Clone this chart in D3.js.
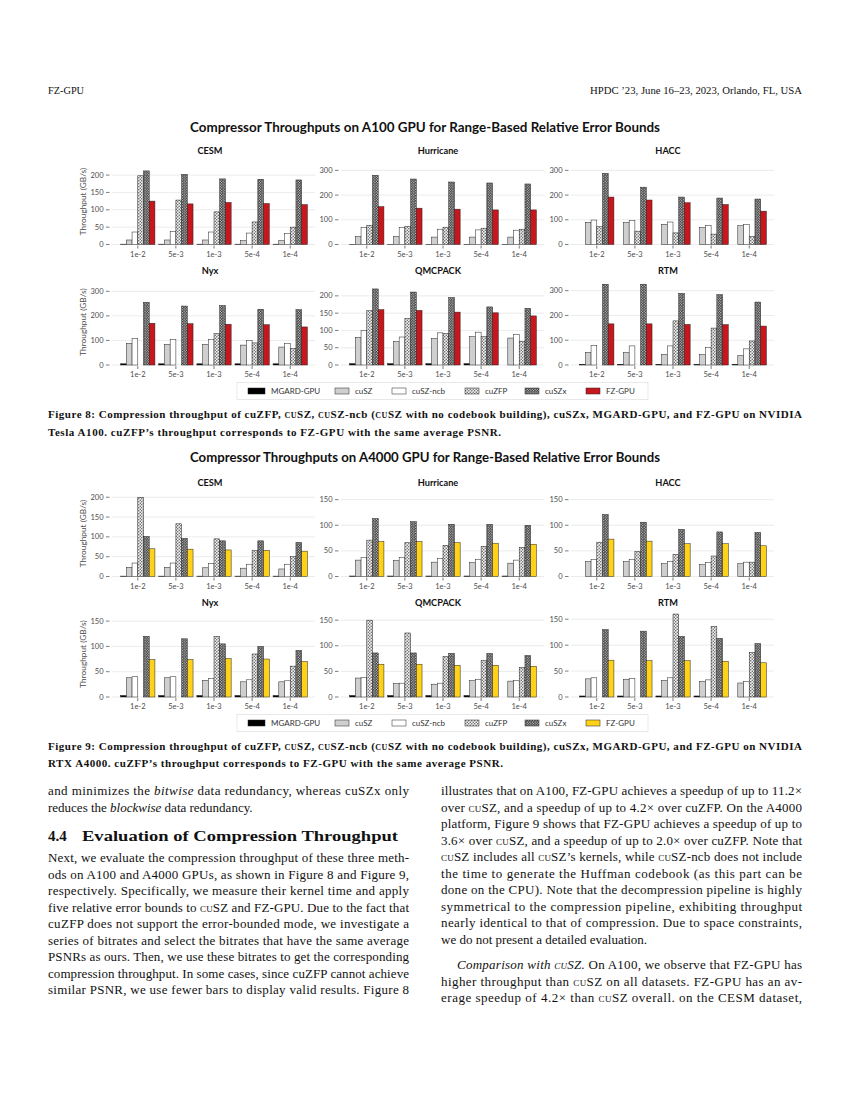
<!DOCTYPE html>
<html><head><meta charset="utf-8">
<script src="https://cdn.jsdelivr.net/npm/d3@7"></script>
<style>body{margin:0;background:#fff}svg{display:block}</style>
</head><body>
<script>
// ---------- DATA ----------
const datasets = ["CESM", "Hurricane", "HACC", "Nyx", "QMCPACK", "RTM"];
const errorBounds = ["1e-2", "5e-3", "1e-3", "5e-4", "1e-4"];
const compressors = ["MGARD-GPU", "cuSZ", "cuSZ-ncb", "cuZFP", "cuSZx", "FZ-GPU"];
const yTickLabelTitle = "Throughput (GB/s)";

// A100 (rows = datasets, cols = error bounds), GB/s
const a100Mgard = [[1,1,1,1,1],[1,1,1,1,1],[null,null,null,null,null],[5,5,5,5,5],[4,4,4,4,null],[3,3,3,3,3]];
const a100Cusz  = [[13,13,13,11,11],[32,32,30,30,30],[90,89,82,69,76],[88,84,84,81,73],[80,68,77,82,78],[51,50,43,42,38]];
const a100Ncb   = [[36,37,36,33,32],[69,69,62,59,58],[99,97,91,77,81],[107,104,104,100,88],[100,81,93,95,89],[78,77,77,71,65]];
const a100Cuzfp = [[198,128,94,65,50],[78,74,70,66,62],[72,54,47,42,32],[null,null,128,90,68],[157,135,91,82,69],[null,null,178,149,97]];
const a100Cuszx = [[212,202,189,188,186],[280,265,253,249,245],[288,232,192,188,184],[255,240,242,227,225],[220,211,195,168,164],[326,326,289,284,254]];
const a100Fz    = [[125,117,121,118,115],[153,147,143,140,140],[192,180,169,162,135],[170,168,166,164,155],[160,158,153,151,142],[166,166,164,163,157]];
const a100YTop  = [242, 340, 340, 342, 243, 339];

// A4000
const a4000Mgard = [[1,1,1,1,1],[1,1,1,1,1],[null,null,null,null,null],[3,3,3,3,3],[3,3,3,3,null],[2,2,2,2,null]];
const a4000Cusz  = [[23,23,22,21,19],[32,31,28,27,26],[29,29,25,23,25],[38,38,33,30,30],[37,26,25,32,31],[35,34,32,30,27]];
const a4000Ncb   = [[34,34,33,31,31],[37,37,35,33,32],[33,33,29,27,28],[40,40,37,34,32],[38,27,27,34,32],[37,36,37,33,30]];
const a4000Cuzfp = [[200,133,95,66,50],[71,66,61,59,57],[67,49,43,40,28],[null,null,120,85,61],[150,125,79,71,58],[null,null,160,136,86]];
const a4000Cuszx = [[101,96,90,90,86],[113,107,102,102,100],[121,106,92,87,86],[120,115,105,100,92],[86,86,85,85,81],[130,127,117,113,103]];
const a4000Fz    = [[70,69,67,66,64],[68,68,66,65,63],[73,69,64,64,60],[74,74,76,75,70],[64,64,62,62,60],[71,70,70,69,66]];
const a4000YTop  = [212, 164, 164, 166, 164, 162];

// ---------- TEXT ----------
const fig8Title = "Compressor Throughputs on A100 GPU for Range-Based Relative Error Bounds";
const fig9Title = "Compressor Throughputs on A4000 GPU for Range-Based Relative Error Bounds";
const fig8Caption = ["Figure 8: Compression throughput of cuZFP, [cuSZ], [cuSZ]-ncb ([cuSZ] with no codebook building), cuSZx, MGARD-GPU, and FZ-GPU on NVIDIA",
                     "Tesla A100. cuZFP’s throughput corresponds to FZ-GPU with the same average PSNR."];
const fig9Caption = ["Figure 9: Compression throughput of cuZFP, [cuSZ], [cuSZ]-ncb ([cuSZ] with no codebook building), cuSZx, MGARD-GPU, and FZ-GPU on NVIDIA",
                     "RTX A4000. cuZFP’s throughput corresponds to FZ-GPU with the same average PSNR."];
const leftCol = [
  ["and minimizes the *bitwise* data redundancy, whereas cuSZx only", true],
  ["reduces the *blockwise* data redundancy.", false]
];
const leftCol2 = [
  ["Next, we evaluate the compression throughput of these three meth-", true],
  ["ods on A100 and A4000 GPUs, as shown in Figure 8 and Figure 9,", true],
  ["respectively. Specifically, we measure their kernel time and apply", true],
  ["five relative error bounds to [cuSZ] and FZ-GPU. Due to the fact that", true],
  ["cuZFP does not support the error-bounded mode, we investigate a", true],
  ["series of bitrates and select the bitrates that have the same average", true],
  ["PSNRs as ours. Then, we use these bitrates to get the corresponding", true],
  ["compression throughput. In some cases, since cuZFP cannot achieve", true],
  ["similar PSNR, we use fewer bars to display valid results. Figure 8", true]
];
const rightCol = [
  ["illustrates that on A100, FZ-GPU achieves a speedup of up to 11.2×", true],
  ["over [cuSZ], and a speedup of up to 4.2× over cuZFP. On the A4000", true],
  ["platform, Figure 9 shows that FZ-GPU achieves a speedup of up to", true],
  ["3.6× over [cuSZ], and a speedup of up to 2.0× over cuZFP. Note that", true],
  ["[cuSZ] includes all [cuSZ]’s kernels, while [cuSZ]-ncb does not include", true],
  ["the time to generate the Huffman codebook (as this part can be", true],
  ["done on the CPU). Note that the decompression pipeline is highly", true],
  ["symmetrical to the compression pipeline, exhibiting throughput", true],
  ["nearly identical to that of compression. Due to space constraints,", true],
  ["we do not present a detailed evaluation.", false]
];
const rightCol2 = [
  ["*Comparison with [cuSZ].* On A100, we observe that FZ-GPU has", true],
  ["higher throughput than [cuSZ] on all datasets. FZ-GPU has an av-", true],
  ["erage speedup of 4.2× than [cuSZ] overall. on the CESM dataset,", true]
];

// ---------- DRAW ----------
const svg = d3.select("body").append("svg").attr("width", 850).attr("height", 1100);
const defs = svg.append("defs");
const pz = defs.append("pattern").attr("id","pZfp").attr("patternUnits","userSpaceOnUse").attr("width",3).attr("height",3);
pz.append("rect").attr("width",3).attr("height",3).attr("fill","#f2f2f2");
pz.append("circle").attr("cx",0.75).attr("cy",0.75).attr("r",0.75).attr("fill","#5a5a5a");
pz.append("circle").attr("cx",2.25).attr("cy",2.25).attr("r",0.75).attr("fill","#5a5a5a");
const px = defs.append("pattern").attr("id","pSzx").attr("patternUnits","userSpaceOnUse").attr("width",2.6).attr("height",2.6);
px.append("rect").attr("width",2.6).attr("height",2.6).attr("fill","#2e2e2e");
px.append("circle").attr("cx",0.65).attr("cy",0.65).attr("r",0.6).attr("fill","#fff");
px.append("circle").attr("cx",1.95).attr("cy",1.95).attr("r",0.6).attr("fill","#fff");

const sansF = "Lato, 'Open Sans', sans-serif";
const serifF = "'Liberation Serif', 'DejaVu Serif', serif";

function fillsFor(fz){ return ["#000", "#cfcfcf", "#fff", "url(#pZfp)", "url(#pSzx)", fz]; }

// rich text parsing: *italic*, [smallcaps]
function tokens(str){
  const out=[]; let it=false, sc=false, buf="";
  const flush=()=>{ if(buf) out.push({t:buf,i:it,s:sc}); buf=""; };
  for (const ch of str){
    if (ch==='*'){ flush(); it=!it; }
    else if (ch==='['){ flush(); sc=true; }
    else if (ch===']'){ flush(); sc=false; }
    else buf+=ch;
  }
  flush(); return out;
}
function richText(x, y, str, o){
  const t = svg.append("text").attr("x",x).attr("y",y)
    .attr("font-family", o.family||serifF).attr("font-size", o.size)
    .attr("font-weight", o.weight||"normal").attr("fill", o.fill||"#111");
  if (o.width) t.attr("textLength", o.width).attr("lengthAdjust","spacing");
  tokens(str).forEach(k=>{
    const s = t.append("tspan").text(k.t);
    if (k.i) s.attr("font-style","italic");
    if (k.s) s.style("font-variant","small-caps");
  });
  return t;
}

// header
svg.append("text").attr("x",48).attr("y",94).attr("font-family",serifF).attr("font-size",10.3).attr("fill","#111").text("FZ-GPU");
svg.append("text").attr("x",802).attr("y",94).attr("text-anchor","end").attr("font-family",serifF).attr("font-size",10.3).attr("fill","#111")
  .attr("textLength",212).attr("lengthAdjust","spacingAndGlyphs").text("HPDC ’23, June 16–23, 2023, Orlando, FL, USA");

const cols = [[113,315],[342,544],[572,774]];
const titleX = [210, 438, 668];
const panelH = 84;

function drawFigure(title, titleY, rowY0, series, yTops, fz){
  const fills = fillsFor(fz);
  svg.append("text").attr("x",425).attr("y",titleY).attr("text-anchor","middle")
    .attr("font-family",sansF).attr("font-weight","bold").attr("font-size",12.5)
    .attr("fill","#111").attr("textLength",470).attr("lengthAdjust","spacingAndGlyphs").text(title);
  datasets.forEach((ds, di)=>{
    const r = Math.floor(di/3), c = di%3;
    const y0 = rowY0[r];
    const [xl, xr] = cols[c];
    const x = d3.scalePoint().domain(errorBounds).range([xl, xr]).padding(0.65);
    const y = d3.scaleLinear().domain([0, yTops[di]]).range([y0, y0-panelH]);
    const g = svg.append("g");
    const ticks = y.ticks(4);
    g.selectAll("line.grid").data(ticks).join("line")
      .attr("x1", xl-1).attr("x2", xr).attr("y1", d=>y(d)).attr("y2", d=>y(d))
      .attr("stroke","#e6e6e6").attr("stroke-width",0.8);
    g.selectAll("line.yt").data(ticks).join("line")
      .attr("x1", xl-7).attr("x2", xl-3.5).attr("y1", d=>y(d)).attr("y2", d=>y(d))
      .attr("stroke","#444").attr("stroke-width",0.7);
    g.selectAll("text.yl").data(ticks).join("text")
      .attr("x", xl-9.5).attr("y", d=>y(d)).attr("dy","0.34em").attr("text-anchor","end")
      .attr("font-family",sansF).attr("font-size",7.5).attr("fill","#4d4d4d").text(d=>d);
    g.selectAll("line.xt").data(errorBounds).join("line")
      .attr("x1", d=>x(d)).attr("x2", d=>x(d)).attr("y1", y0+1).attr("y2", y0+4)
      .attr("stroke","#444").attr("stroke-width",0.7);
    g.selectAll("text.xl").data(errorBounds).join("text")
      .attr("x", d=>x(d)).attr("y", y0+12).attr("text-anchor","middle")
      .attr("font-family",sansF).attr("font-size",7.5).attr("fill","#4d4d4d").text(d=>d);
    const bw = 0.9*x.step()/compressors.length;
    compressors.forEach((cn, ci)=>{
      const vals = series[ci][di];
      g.selectAll("rect.b"+ci).data(errorBounds.map((e,ei)=>({e, v:vals[ei]})).filter(d=>d.v!=null)).join("rect")
        .attr("x", d=>x(d.e) + (ci-3)*bw).attr("width", bw)
        .attr("y", d=>y(d.v)).attr("height", d=>y(0)-y(d.v))
        .attr("fill", fills[ci]).attr("stroke","#222").attr("stroke-width",0.5);
    });
    svg.append("text").attr("x", titleX[c]).attr("y", y0-91).attr("text-anchor","middle")
      .attr("font-family",sansF).attr("font-weight","bold").attr("font-size",9.2).attr("fill","#111").text(ds);
    if (c===0){
      svg.append("text").attr("transform",`translate(86,${y0-43}) rotate(-90)`).attr("text-anchor","middle")
        .attr("font-family",sansF).attr("font-size",8.3).attr("fill","#4d4d4d").text(yTickLabelTitle);
    }
  });
  const ly = rowY0[1] + 26;
  svg.append("rect").attr("x",237).attr("y",ly-8.5).attr("width",411).attr("height",17)
    .attr("fill","none").attr("stroke","#e3e3e3").attr("stroke-width",0.8);
  const lx = [248, 335, 392, 465, 525, 586];
  compressors.forEach((cn, ci)=>{
    svg.append("rect").attr("x",lx[ci]).attr("y",ly-3).attr("width",ci===0?17:14).attr("height",6)
      .attr("fill",fills[ci]).attr("stroke","#222").attr("stroke-width",0.5);
    svg.append("text").attr("x",lx[ci]+(ci===0?23:20)).attr("y",ly).attr("dy","0.34em")
      .attr("font-family",sansF).attr("font-size",8).attr("fill","#333").text(cn);
  });
}

drawFigure(fig8Title, 132, [244.5, 365],
  [a100Mgard, a100Cusz, a100Ncb, a100Cuzfp, a100Cuszx, a100Fz], a100YTop, "#c8161d");
drawFigure(fig9Title, 462, [576.5, 697],
  [a4000Mgard, a4000Cusz, a4000Ncb, a4000Cuzfp, a4000Cuszx, a4000Fz], a4000YTop, "#ffd21a");

// captions
richText(48, 418, fig8Caption[0], {size:11, weight:"bold", width:754});
richText(48, 436, fig8Caption[1], {size:11, weight:"bold", width:453});
richText(48, 750, fig9Caption[0], {size:11, weight:"bold", width:754});
richText(48, 767, fig9Caption[1], {size:11, weight:"bold", width:455});

// body text
const lh = 16.5, bodySize = 13;
leftCol.forEach((l,i)=> richText(48, 795 + i*lh, l[0], {size:bodySize, width: l[1]?361:null}));
svg.append("text").attr("x",48).attr("y",841).attr("font-family",serifF).attr("font-weight","bold")
  .attr("font-size",15).attr("fill","#111").text("4.4");
svg.append("text").attr("x",82).attr("y",841).attr("font-family",serifF).attr("font-weight","bold")
  .attr("font-size",15).attr("fill","#111").attr("textLength",316).attr("lengthAdjust","spacingAndGlyphs")
  .text("Evaluation of Compression Throughput");
leftCol2.forEach((l,i)=> richText(48, 862 + i*lh, l[0], {size:bodySize, width: l[1]?361:null}));
rightCol.forEach((l,i)=> richText(441, 795 + i*lh, l[0], {size:bodySize, width: l[1]?361:null}));
rightCol2.forEach((l,i)=> richText(i===0?457:441, 969 + i*lh, l[0], {size:bodySize, width: l[1]?(i===0?345:361):null}));
</script>
</body></html>
